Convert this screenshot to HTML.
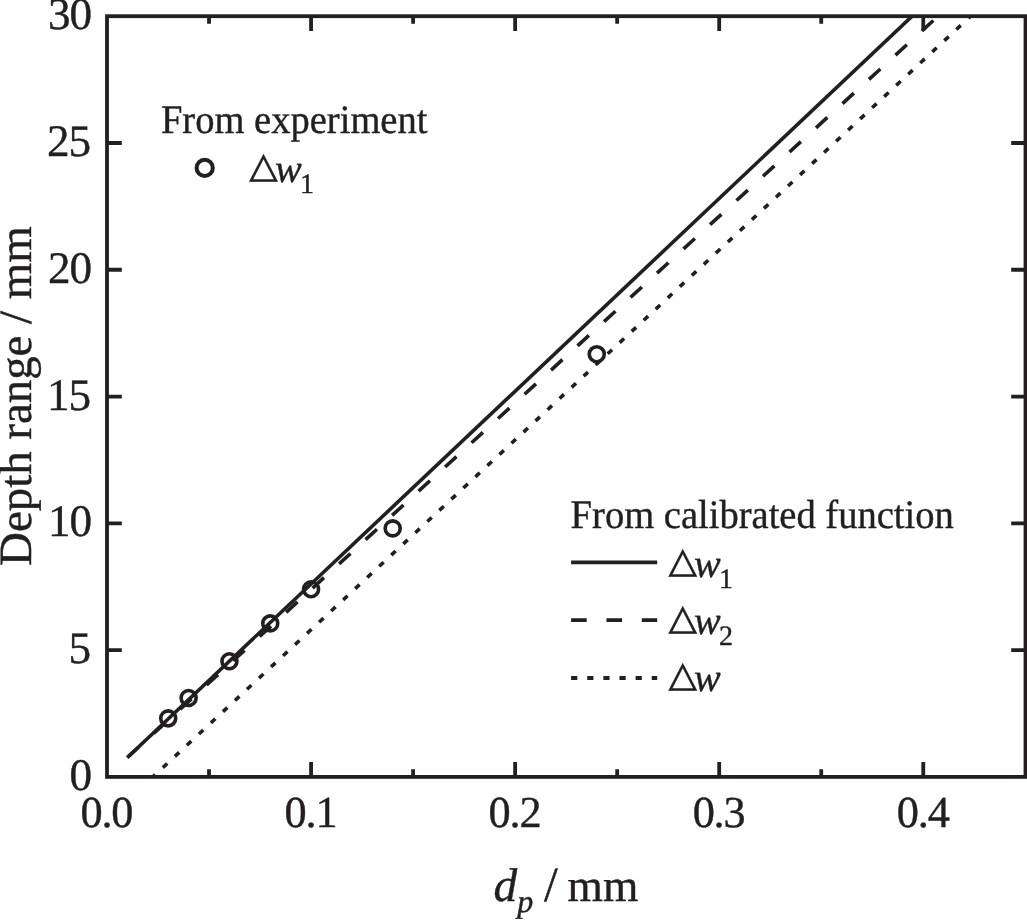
<!DOCTYPE html>
<html lang="en"><head><meta charset="utf-8"><title>Depth range vs dp</title>
<style>html,body{margin:0;padding:0;background:#fff}svg{display:block}text{font-family:"Liberation Serif","Noto Serif CJK SC",serif;fill:#231f20;stroke:#231f20;stroke-width:.4px;stroke-linejoin:round;text-rendering:geometricPrecision}.it{font-style:italic}.tri{font-family:"IPAGothic","Liberation Serif",sans-serif;stroke-width:.15px}</style></head><body>
<svg width="1027" height="920" viewBox="0 0 1027 920">
<rect x="0" y="0" width="1027" height="920" fill="#fff"/>
<defs><clipPath id="cp"><rect x="107.00" y="16.20" width="918.50" height="760.70"/></clipPath></defs>
<g clip-path="url(#cp)" fill="none" stroke="#231f20" stroke-width="3.6">
<line x1="127.90" y1="757.00" x2="932.10" y2="-2.69"/>
<line x1="127.16" y1="757.67" x2="1000.00" y2="-40.45" stroke-dasharray="15.40 20.50"/>
<line x1="138.79" y1="789.95" x2="1010.00" y2="-20.45" stroke-dasharray="6.00 10.42"/>
</g>
<g fill="none" stroke="#231f20" stroke-width="3.6">
<circle cx="168.22" cy="718.33" r="7.5"/>
<circle cx="188.63" cy="698.04" r="7.5"/>
<circle cx="229.44" cy="661.27" r="7.5"/>
<circle cx="270.25" cy="623.42" r="7.5"/>
<circle cx="311.07" cy="589.26" r="7.5"/>
<circle cx="392.69" cy="528.40" r="7.5"/>
<circle cx="596.76" cy="354.20" r="7.5"/>
</g>
<circle cx="204.7" cy="167.9" r="8.1" fill="none" stroke="#231f20" stroke-width="4"/>
<g fill="none" stroke="#231f20" stroke-width="3.8">
<rect x="107.00" y="16.20" width="918.50" height="760.70"/>
<path d="M311.07 776.90v-14.80M311.07 16.20v14.80M515.13 776.90v-14.80M515.13 16.20v14.80M719.20 776.90v-14.80M719.20 16.20v14.80M923.27 776.90v-14.80M923.27 16.20v14.80M209.03 776.90v-7.60M209.03 16.20v7.60M413.10 776.90v-7.60M413.10 16.20v7.60M617.17 776.90v-7.60M617.17 16.20v7.60M821.23 776.90v-7.60M821.23 16.20v7.60M107.00 650.12h14.80M1025.50 650.12h-14.30M107.00 523.33h14.80M1025.50 523.33h-14.30M107.00 396.55h14.80M1025.50 396.55h-14.30M107.00 269.77h14.80M1025.50 269.77h-14.30M107.00 142.98h14.80M1025.50 142.98h-14.30"/>
</g>
<g font-size="45.2" letter-spacing="-1.1">
<text x="90.9" y="789.95" text-anchor="end">0</text>
<text x="90.0" y="663.17" text-anchor="end">5</text>
<text x="90.9" y="536.38" text-anchor="end">10</text>
<text x="90.0" y="409.60" text-anchor="end">15</text>
<text x="90.9" y="282.82" text-anchor="end">20</text>
<text x="90.0" y="156.03" text-anchor="end">25</text>
<text x="90.9" y="29.25" text-anchor="end">30</text>
</g>
<g font-size="44.3" letter-spacing="-1.15">
<text x="106.40" y="826.55" text-anchor="middle">0.0</text>
<text x="310.47" y="826.55" text-anchor="middle">0.1</text>
<text x="514.53" y="826.55" text-anchor="middle">0.2</text>
<text x="718.60" y="826.55" text-anchor="middle">0.3</text>
<text x="922.67" y="826.55" text-anchor="middle">0.4</text>
</g>
<text font-size="46.2" text-anchor="middle" transform="translate(31.2 396.1) rotate(-90) scale(1.0147 1)">Depth range / mm</text>
<text y="900.8"><tspan class="it" x="493.5" font-size="47.3">d</tspan><tspan class="it" font-size="32" dy="11">p</tspan><tspan x="544" dy="-11" font-size="49.5">/</tspan><tspan x="567.5" font-size="45.5">mm</tspan></text>
<text font-size="40.6" transform="translate(160.9 132.6) scale(0.950 1)">From experiment</text>
<text font-size="40.6" transform="translate(570.6 527.5) scale(0.950 1)">From calibrated function</text>
<text x="245.60" y="182.20" font-size="40"><tspan class="tri" font-size="36">△</tspan><tspan class="it" dx="-6.6">w</tspan><tspan font-size="28" dx="-1.8" dy="11">1</tspan></text>
<text x="664.70" y="576.60" font-size="40"><tspan class="tri" font-size="36">△</tspan><tspan class="it" dx="-6.6">w</tspan><tspan font-size="28" dx="-1.8" dy="11">1</tspan></text>
<text x="664.70" y="633.70" font-size="40"><tspan class="tri" font-size="36">△</tspan><tspan class="it" dx="-6.6">w</tspan><tspan font-size="28" dx="-1.8" dy="11">2</tspan></text>
<text x="664.70" y="690.80" font-size="40"><tspan class="tri" font-size="36">△</tspan><tspan class="it" dx="-6.6">w</tspan></text>
<g fill="none" stroke="#231f20" stroke-width="3.8">
<line x1="571.1" y1="562.4" x2="657.2" y2="562.4"/>
<line x1="571.1" y1="620.2" x2="657.2" y2="620.2" stroke-dasharray="15.6 19.75"/>
<line x1="571.1" y1="678" x2="657.2" y2="678" stroke-dasharray="6.2 9.93"/>
</g>
</svg></body></html>
